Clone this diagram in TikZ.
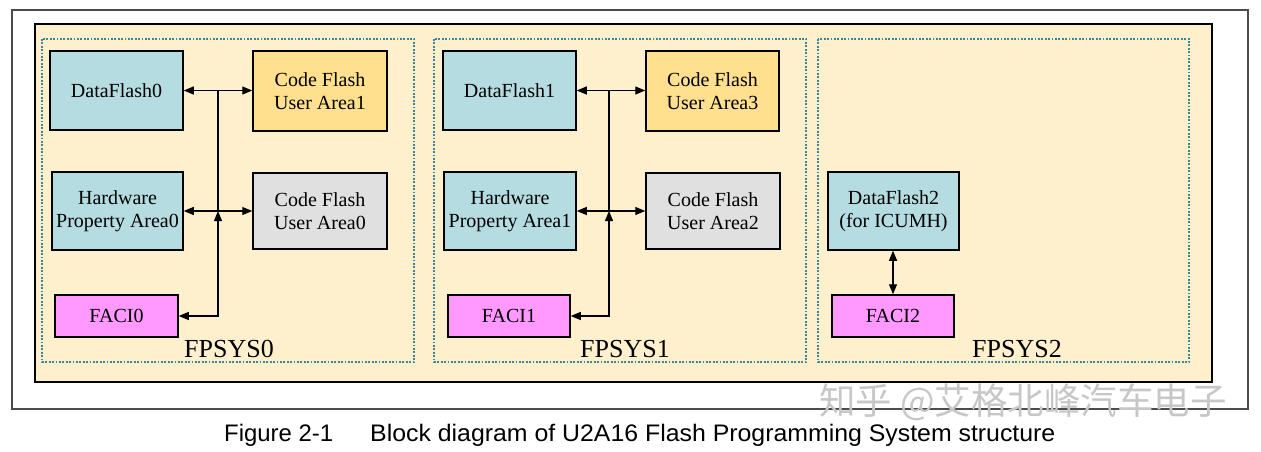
\documentclass[tikz,border=0pt]{standalone}
\usepackage{fontspec}
\usepackage{graphicx}
\setmainfont{Liberation Serif}
\newfontfamily\capfont{Liberation Sans}
\newfontfamily\cjk{Noto Sans CJK SC}
\usetikzlibrary{arrows.meta}
\definecolor{bgyellow}{HTML}{FEF0CC}
\definecolor{dfblue}{HTML}{B5DDE1}
\definecolor{cfgold}{HTML}{FFE08F}
\definecolor{cfgray}{HTML}{E0E0E0}
\definecolor{faciviolet}{HTML}{FF99FF}
\definecolor{dotteal}{HTML}{3F8598}
\begin{document}
\begin{tikzpicture}[x=1pt,y=-1pt,
  blk/.style={draw=black, line width=1.5pt, inner sep=0pt, align=center,
    font=\fontsize{20}{23}\selectfont},
  dfbox/.style={blk, fill=dfblue},
  cfybox/.style={blk, fill=cfgold},
  cfgbox/.style={blk, fill=cfgray},
  facibox/.style={blk, fill=faciviolet},
  sysframe/.style={draw=dotteal, line width=2.6pt, dash pattern=on 1.8pt off 1.6pt},
  syslabel/.style={font=\fontsize{26}{28}\selectfont, anchor=base, inner sep=0pt},
  conn/.style={line width=1.2pt, draw=black},
  biarr/.style={conn, {Triangle[length=10pt,width=8pt]}-{Triangle[length=10pt,width=8pt]}},
  captext/.style={font=\capfont\fontsize{23.9}{26}\selectfont, anchor=base west, inner sep=0pt},
]
\useasboundingbox (0,0) rectangle (1261,452);
\fill[white] (0,0) rectangle (1261,452);
% outer frames
\draw[draw=black!70, line width=1.3pt] (12,10) rectangle (1248,409);
\draw[draw=black, fill=bgyellow, line width=2pt] (35,24) rectangle (1212,382);
% dotted subsystem frames
\draw[sysframe] (42,39) rectangle (414,362);
\draw[sysframe] (434,39) rectangle (806,362);
\draw[sysframe] (818,39) rectangle (1189,362);
\node[syslabel] (l0) at (229,357) {FPSYS0};
\node[syslabel] (l1) at (625,357) {FPSYS1};
\node[syslabel] (l2) at (1017,357) {FPSYS2};

% FPSYS0
\node[dfbox, minimum width=133pt, minimum height=79pt] (df0) at (116.5,90.5) {DataFlash0};
\node[cfybox, minimum width=134pt, minimum height=80pt] (cf1) at (320,91) {Code Flash\\User Area1};
\node[dfbox, minimum width=131pt, minimum height=78pt] (hw0) at (117.5,211) {Hardware\\Property Area0};
\node[cfgbox, minimum width=134pt, minimum height=76pt] (cf0) at (320,211) {Code Flash\\User Area0};
\node[facibox, minimum width=123pt, minimum height=42pt] (fa0) at (116.5,316) {FACI0};
\coordinate (j0a) at (218,90.5);
\coordinate (j0b) at (218,211);
\draw[biarr] (df0.east) -- (cf1.west |- df0.east);
\draw[biarr] (hw0.east) -- (cf0.west |- hw0.east);
\draw[conn] (j0a) -- (j0b);
\draw[biarr] (fa0.east) -| (j0b);

% FPSYS1
\node[dfbox, minimum width=133pt, minimum height=79pt] (df1) at (509.5,90.5) {DataFlash1};
\node[cfybox, minimum width=133pt, minimum height=80pt] (cf3) at (712.5,91) {Code Flash\\User Area3};
\node[dfbox, minimum width=132pt, minimum height=78pt] (hw1) at (510,211) {Hardware\\Property Area1};
\node[cfgbox, minimum width=134pt, minimum height=76pt] (cf2) at (713,211) {Code Flash\\User Area2};
\node[facibox, minimum width=122pt, minimum height=42pt] (fa1) at (509,316) {FACI1};
\coordinate (j1a) at (609,90.5);
\coordinate (j1b) at (609,211);
\draw[biarr] (df1.east) -- (cf3.west |- df1.east);
\draw[biarr] (hw1.east) -- (cf2.west |- hw1.east);
\draw[conn] (j1a) -- (j1b);
\draw[biarr] (fa1.east) -| (j1b);

% FPSYS2
\node[dfbox, minimum width=131pt, minimum height=78pt] (df2) at (893.5,211) {DataFlash2\\(for ICUMH)};
\node[facibox, minimum width=122pt, minimum height=42pt] (fa2) at (893,316) {FACI2};
\draw[biarr] (df2.south -| fa2.north) -- (fa2.north);

% watermark
\node[font=\cjk\fontsize{36.5}{38}\selectfont, text=black!22, inner sep=0pt] (wm) at (1023,402) {知乎 @艾格北峰汽车电子};

% caption
\node[captext] (cap1) at (224,441) {Figure 2-1};
\node[captext] (cap2) at (370,441) {\scalebox{1.04}[1]{Block diagram of U2A16 Flash Programming System structure}};
\end{tikzpicture}
\end{document}
